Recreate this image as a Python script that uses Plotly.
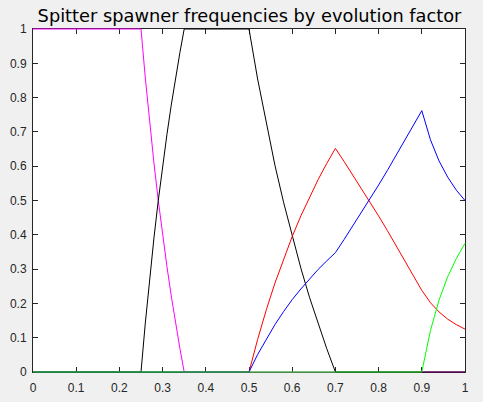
import plotly.graph_objects as go

evolution = [0, 0.25, 0.26, 0.27, 0.28, 0.29, 0.30, 0.31, 0.32, 0.33, 0.34, 0.35,
             0.5, 0.52, 0.54, 0.56, 0.58, 0.60, 0.62, 0.64, 0.66, 0.68, 0.70,
             0.72, 0.74, 0.76, 0.78, 0.80, 0.82, 0.84, 0.86, 0.88, 0.90,
             0.92, 0.94, 0.96, 0.98, 1.0]

magenta_vals = [1, 1, 0.857, 0.727, 0.609, 0.5, 0.4, 0.308, 0.222, 0.143, 0.069, 0,
                0, 0, 0, 0, 0, 0, 0, 0, 0, 0, 0,
                0, 0, 0, 0, 0, 0, 0, 0, 0, 0,
                0, 0, 0, 0, 0]
black_vals = [0, 0, 0.143, 0.273, 0.391, 0.5, 0.6, 0.692, 0.778, 0.857, 0.931, 1,
              1, 0.854, 0.723, 0.603, 0.495, 0.395, 0.303, 0.218, 0.140, 0.068, 0,
              0, 0, 0, 0, 0, 0, 0, 0, 0, 0,
              0, 0, 0, 0, 0]
red_vals = [0, 0, 0, 0, 0, 0, 0, 0, 0, 0, 0, 0,
            0, 0.095, 0.181, 0.259, 0.330, 0.395, 0.455, 0.510, 0.561, 0.608, 0.652,
            0.614, 0.575, 0.536, 0.495, 0.455, 0.413, 0.370, 0.327, 0.283, 0.238,
            0.202, 0.175, 0.154, 0.138, 0.125]
blue_vals = [0, 0, 0, 0, 0, 0, 0, 0, 0, 0, 0, 0,
             0, 0.051, 0.096, 0.138, 0.176, 0.211, 0.242, 0.272, 0.299, 0.324, 0.348,
             0.386, 0.425, 0.464, 0.505, 0.545, 0.587, 0.630, 0.673, 0.717, 0.762,
             0.677, 0.615, 0.568, 0.530, 0.500]
green_vals = [0, 0, 0, 0, 0, 0, 0, 0, 0, 0, 0, 0,
              0, 0, 0, 0, 0, 0, 0, 0, 0, 0, 0,
              0, 0, 0, 0, 0, 0, 0, 0, 0, 0,
              0.121, 0.210, 0.278, 0.331, 0.375]

series = [
    ("small biter", magenta_vals, "#ff00ff"),
    ("small spitter", black_vals, "#000000"),
    ("medium spitter", red_vals, "#ff0000"),
    ("big spitter", blue_vals, "#0000ff"),
    ("behemoth spitter", green_vals, "#00ff00"),
]

W, H = 483, 402
# visible axes box (pixels)
box_l, box_r, box_t, box_b = 33, 465, 29, 372
pad = 3  # extra room so lines lying on the box edge are not clipped
ml, mr, mt, mb = box_l - pad, W - box_r - pad, box_t - pad, H - box_b - pad
pw, ph = W - ml - mr, H - mt - mb
bw, bh = box_r - box_l, box_b - box_t

fig = go.Figure()
# empty trace so the visible axes box is drawn
fig.add_trace(go.Scatter(x=[], y=[], xaxis="x", yaxis="y", mode="lines",
                         showlegend=False, hoverinfo="skip"))
for name, vals, color in series:
    fig.add_trace(go.Scatter(x=evolution, y=vals, mode="lines", name=name,
                             xaxis="x2", yaxis="y2",
                             line=dict(color=color, width=1)))

axis_common = dict(
    showgrid=False, zeroline=False, showline=True, linecolor="#262626", linewidth=1,
    mirror="ticks", ticks="inside", ticklen=5, tickwidth=1, tickcolor="#262626",
    dtick=0.1, tick0=0, tickmode="linear", automargin=False,
    tickfont=dict(family="Liberation Sans, Arial", size=12, color="#262626"),
)

fig.update_layout(
    width=W, height=H,
    margin=dict(l=ml, r=mr, t=mt, b=mb, pad=0, autoexpand=False),
    paper_bgcolor="#f0f0f0", plot_bgcolor="rgba(0,0,0,0)",
    showlegend=False,
    title=dict(text="Spitter spawner frequencies by evolution factor",
               x=249.5 / W, xanchor="center", y=1 - 15.5 / H, yanchor="middle",
               font=dict(family="DejaVu Sans", size=17.8, color="#000000")),
    xaxis=dict(range=[0, 1], domain=[pad / pw, 1 - pad / pw], anchor="y",
               ticklabelstandoff=5, **axis_common),
    yaxis=dict(range=[0, 1], domain=[pad / ph, 1 - pad / ph], anchor="x",
               ticklabelstandoff=3, **axis_common),
    xaxis2=dict(range=[-pad / bw, 1 + pad / bw], domain=[0, 1], anchor="y2",
                visible=False, showgrid=False, zeroline=False, automargin=False),
    yaxis2=dict(range=[-pad / bh, 1 + pad / bh], domain=[0, 1], anchor="x2",
                visible=False, showgrid=False, zeroline=False, automargin=False),
    shapes=[dict(type="rect", xref="x domain", yref="y domain", x0=0, x1=1, y0=0, y1=1,
                 fillcolor="#ffffff", line=dict(width=0), layer="below")],
)

fig.write_html("out.html")
